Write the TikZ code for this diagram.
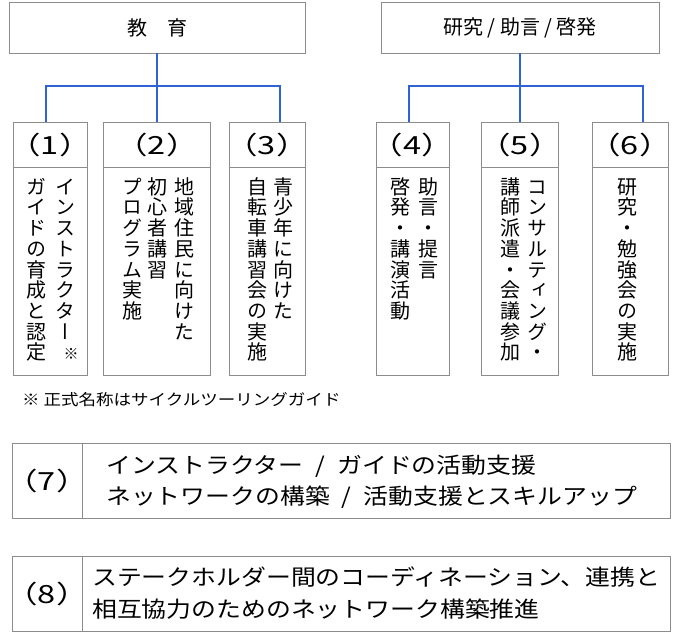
\documentclass[tikz,border=0pt]{standalone}
\usepackage{fontspec}
\setmainfont{Noto Sans CJK JP}
\newfontfamily\tatefont[RawFeature=+vert]{Noto Sans CJK JP}
\newfontfamily\widefont[FakeStretch=1.13]{Noto Sans CJK JP}
\newfontfamily\numfont[FakeStretch=1.3]{Noto Sans CJK JP}
\usetikzlibrary{positioning}
\definecolor{boxgray}{HTML}{8C8C8C}
\definecolor{linkblue}{HTML}{2F62D6}
\makeatletter
\newcommand\tate[1]{\vtop{\tatefont\fontsize{20pt}{20.7pt}\selectfont
  \baselineskip=20.7pt\lineskiplimit=-30pt
  \@tfor\tate@c:=#1\do{\hbox to 20pt{\hss\tate@c\hss\vrule height 17pt depth 3.7pt width 0pt}}}}
\makeatother
\newcommand\slsep{\hspace{12pt}/\hspace{12pt}}

\begin{document}
\begin{tikzpicture}[x=1pt, y=-1pt]
				\tikzstyle{topbox}=[draw=boxgray, line width=0.9pt, minimum height=51pt, inner sep=0pt, font=\fontsize{20pt}{24pt}\selectfont]
				\tikzstyle{headbox}=[draw=boxgray, line width=0.9pt, minimum height=45pt, inner ysep=0pt, inner xsep=-12pt, font=\numfont\fontsize{25pt}{28pt}\selectfont]
				\tikzstyle{bodybox}=[draw=boxgray, line width=0.9pt, minimum height=208pt, inner sep=0pt]
				\tikzstyle{tatecol}=[anchor=north, inner sep=0pt]
				\tikzstyle{numbox}=[draw=boxgray, line width=0.9pt, minimum width=70pt, minimum height=75pt, inner ysep=0pt, inner xsep=-12pt, font=\numfont\fontsize{25pt}{28pt}\selectfont]
				\tikzstyle{wordbox}=[draw=boxgray, line width=0.9pt, minimum width=588pt, minimum height=75pt, inner sep=0pt]
				\tikzstyle{words}=[anchor=west, align=left, inner sep=0pt, font=\widefont\fontsize{22pt}{31pt}\selectfont]
				\tikzstyle{link}=[draw=linkblue, line width=1.4pt]
				
				\useasboundingbox (0,0) rectangle (680,634);
				
				\node (e0) at (157,27.5) [topbox, minimum width=296pt] {教　育};
				\node (r0) at (520,27.5) [topbox, minimum width=278pt] {研究 / 助言 / 啓発};
				
				\node (h1) at (50,144.5) [headbox, minimum width=74pt] {（1）};
				\node (h2) at (157,144.5) [headbox, minimum width=107pt] {（2）};
				\node (h3) at (267,144.5) [headbox, minimum width=76pt] {（3）};
				\node (h4) at (412.5,144.5) [headbox, minimum width=73pt] {（4）};
				\node (h5) at (520,144.5) [headbox, minimum width=77pt] {（5）};
				\node (h6) at (630,144.5) [headbox, minimum width=76pt] {（6）};
				
				\node (b1) [below=0pt of h1, bodybox, minimum width=74pt] {};
				\node (b2) [below=0pt of h2, bodybox, minimum width=107pt] {};
				\node (b3) [below=0pt of h3, bodybox, minimum width=76pt] {};
				\node (b4) [below=0pt of h4, bodybox, minimum width=73pt] {};
				\node (b5) [below=0pt of h5, bodybox, minimum width=77pt] {};
				\node (b6) [below=0pt of h6, bodybox, minimum width=76pt] {};
				
				\node (v1a) at (36,177) [tatecol] {\tate{ガイドの育成と認定}};
				\node (v1b) at (65,177) [tatecol] {\tate{インストラクター{\hspace{12pt}\fontsize{15pt}{15pt}\selectfont ※}}};
				\node (v2a) at (132,177) [tatecol] {\tate{プログラム実施}};
				\node (v2b) at (157,177) [tatecol] {\tate{初心者講習}};
				\node (v2c) at (184,177) [tatecol] {\tate{地域住民に向けた}};
				\node (v3a) at (257,177) [tatecol] {\tate{自転車講習会の実施}};
				\node (v3b) at (283,177) [tatecol] {\tate{青少年に向けた}};
				\node (v4a) at (400,177) [tatecol] {\tate{啓発・講演活動}};
				\node (v4b) at (428,177) [tatecol] {\tate{助言・提言}};
				\node (v5a) at (510,177) [tatecol] {\tate{講師派遣・会議参加}};
				\node (v5b) at (537,177) [tatecol] {\tate{コンサルティング・}};
				\node (v6a) at (627,177) [tatecol] {\tate{研究・勉強会の実施}};
				
				\node (note) at (22,400) [anchor=west, inner sep=0pt, font=\widefont\fontsize{15.5pt}{18pt}\selectfont] {※ 正式名称はサイクルツーリングガイド};
				
				\node (p7) at (47,480.5) [numbox] {（7）};
				\node (q7) [right=0pt of p7, wordbox] {};
				\node (s7) at (106,482) [words] {インストラクター\slsep ガイドの活動支援\\ネットワークの構築\slsep 活動支援とスキルアップ};
				
				\node (p8) at (47,593.5) [numbox] {（8）};
				\node (q8) [right=0pt of p8, wordbox] {};
				\node (s8) at (92,593) [words, font=\widefont\fontsize{22pt}{32pt}\selectfont] {ステークホルダー間のコーディネーション、連携と\\相互協力のためのネットワーク構築推進};
				
				\draw [link] (e0.south) -- (h2.north);
				\draw [link] ([xshift=-4pt]h1.north) -- ++(0,-35.5) -| ([xshift=13pt]h3.north);
				\draw [link] (r0.south) -- (h5.north);
				\draw [link] ([xshift=-3.5pt]h4.north) -- ++(0,-35.5) -| ([xshift=13pt]h6.north);
				\end{tikzpicture}
\end{document}
